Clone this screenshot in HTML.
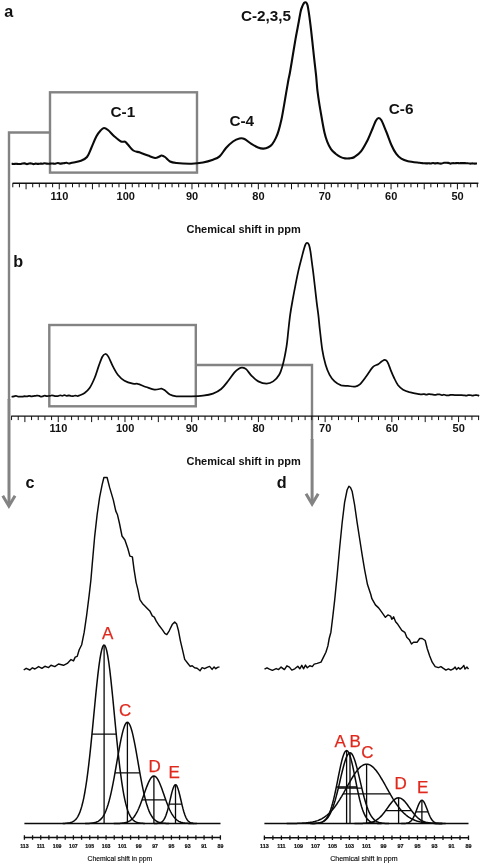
<!DOCTYPE html>
<html><head><meta charset="utf-8"><title>NMR spectra</title>
<style>
html,body{margin:0;padding:0;background:#fff}
svg{display:block}
text{font-family:"Liberation Sans",Arial,Helvetica,sans-serif;fill:#111}
.tk{font-size:11px;font-weight:700}
.pl{font-size:16.2px;font-weight:700}
.cl{font-size:15.3px;font-weight:700}
.ax{font-size:11px;font-weight:700}
.rl{font-size:17px;fill:#e0281c;stroke:#e0281c;stroke-width:0.25px}
.sk{font-weight:700;stroke:#111;stroke-width:0.2px}
.sa{fill:#000;stroke:#000;stroke-width:0.12px}
</style></head><body>
<svg width="482" height="865" viewBox="0 0 482 865">
<rect width="482" height="865" fill="#fff"/>
<g fill="none" stroke="#838383" stroke-width="2.4">
<rect x="50" y="92.3" width="147" height="80.3"/>
<rect x="49.3" y="325" width="146.5" height="81.3"/>
<path d="M49 132.5H9V400"/>
<path d="M9 399V504" stroke-width="3"/>
<path d="M2.75 495.8L8.9 506L15.05 495.8" stroke-width="3" stroke-linejoin="miter"/>
<path d="M196 365H312V440"/>
<path d="M312.1 439V502" stroke-width="3"/>
<path d="M306 493.8L312.1 504L318.2 493.8" stroke-width="3" stroke-linejoin="miter"/>
</g>
<path d="M12.6 183.3H478.4" stroke="#111" stroke-width="1.45" fill="none"/>
<path d="M477.32 183.3v4.0M470.68 183.3v4.0M464.05 183.3v4.0M457.41 183.3v6.0M450.77 183.3v4.0M444.14 183.3v4.0M437.50 183.3v4.0M430.87 183.3v4.0M424.23 183.3v6.0M417.59 183.3v4.0M410.96 183.3v4.0M404.32 183.3v4.0M397.69 183.3v4.0M391.05 183.3v6.0M384.41 183.3v4.0M377.78 183.3v4.0M371.14 183.3v4.0M364.51 183.3v4.0M357.87 183.3v6.0M351.23 183.3v4.0M344.60 183.3v4.0M337.96 183.3v4.0M331.33 183.3v4.0M324.69 183.3v6.0M318.05 183.3v4.0M311.42 183.3v4.0M304.78 183.3v4.0M298.15 183.3v4.0M291.51 183.3v6.0M284.87 183.3v4.0M278.24 183.3v4.0M271.60 183.3v4.0M264.97 183.3v4.0M258.33 183.3v6.0M251.69 183.3v4.0M245.06 183.3v4.0M238.42 183.3v4.0M231.79 183.3v4.0M225.15 183.3v6.0M218.51 183.3v4.0M211.88 183.3v4.0M205.24 183.3v4.0M198.61 183.3v4.0M191.97 183.3v6.0M185.33 183.3v4.0M178.70 183.3v4.0M172.06 183.3v4.0M165.43 183.3v4.0M158.79 183.3v6.0M152.15 183.3v4.0M145.52 183.3v4.0M138.88 183.3v4.0M132.25 183.3v4.0M125.61 183.3v6.0M118.97 183.3v4.0M112.34 183.3v4.0M105.70 183.3v4.0M99.07 183.3v4.0M92.43 183.3v6.0M85.79 183.3v4.0M79.16 183.3v4.0M72.52 183.3v4.0M65.89 183.3v4.0M59.25 183.3v6.0M52.61 183.3v4.0M45.98 183.3v4.0M39.34 183.3v4.0M32.71 183.3v4.0M26.07 183.3v6.0M19.43 183.3v4.0M12.80 183.3v4.0" stroke="#111" stroke-width="1" fill="none"/>
<text x="457.5" y="200.3" text-anchor="middle" class="tk">50</text>
<text x="391.2" y="200.3" text-anchor="middle" class="tk">60</text>
<text x="324.8" y="200.3" text-anchor="middle" class="tk">70</text>
<text x="258.4" y="200.3" text-anchor="middle" class="tk">80</text>
<text x="192.1" y="200.3" text-anchor="middle" class="tk">90</text>
<text x="125.7" y="200.3" text-anchor="middle" class="tk">100</text>
<text x="59.4" y="200.3" text-anchor="middle" class="tk">110</text>
<path d="M11.2 416.1H479.2" stroke="#111" stroke-width="1.45" fill="none"/>
<path d="M478.59 416.1v4.0M471.91 416.1v4.0M465.24 416.1v4.0M458.57 416.1v6.0M451.90 416.1v4.0M445.23 416.1v4.0M438.55 416.1v4.0M431.88 416.1v4.0M425.21 416.1v6.0M418.54 416.1v4.0M411.87 416.1v4.0M405.19 416.1v4.0M398.52 416.1v4.0M391.85 416.1v6.0M385.18 416.1v4.0M378.51 416.1v4.0M371.83 416.1v4.0M365.16 416.1v4.0M358.49 416.1v6.0M351.82 416.1v4.0M345.15 416.1v4.0M338.47 416.1v4.0M331.80 416.1v4.0M325.13 416.1v6.0M318.46 416.1v4.0M311.79 416.1v4.0M305.11 416.1v4.0M298.44 416.1v4.0M291.77 416.1v6.0M285.10 416.1v4.0M278.43 416.1v4.0M271.75 416.1v4.0M265.08 416.1v4.0M258.41 416.1v6.0M251.74 416.1v4.0M245.07 416.1v4.0M238.39 416.1v4.0M231.72 416.1v4.0M225.05 416.1v6.0M218.38 416.1v4.0M211.71 416.1v4.0M205.03 416.1v4.0M198.36 416.1v4.0M191.69 416.1v6.0M185.02 416.1v4.0M178.35 416.1v4.0M171.67 416.1v4.0M165.00 416.1v4.0M158.33 416.1v6.0M151.66 416.1v4.0M144.99 416.1v4.0M138.31 416.1v4.0M131.64 416.1v4.0M124.97 416.1v6.0M118.30 416.1v4.0M111.63 416.1v4.0M104.95 416.1v4.0M98.28 416.1v4.0M91.61 416.1v6.0M84.94 416.1v4.0M78.27 416.1v4.0M71.59 416.1v4.0M64.92 416.1v4.0M58.25 416.1v6.0M51.58 416.1v4.0M44.91 416.1v4.0M38.23 416.1v4.0M31.56 416.1v4.0M24.89 416.1v6.0M18.22 416.1v4.0M11.55 416.1v4.0" stroke="#111" stroke-width="1" fill="none"/>
<text x="458.7" y="432.3" text-anchor="middle" class="tk">50</text>
<text x="391.9" y="432.3" text-anchor="middle" class="tk">60</text>
<text x="325.2" y="432.3" text-anchor="middle" class="tk">70</text>
<text x="258.5" y="432.3" text-anchor="middle" class="tk">80</text>
<text x="191.8" y="432.3" text-anchor="middle" class="tk">90</text>
<text x="125.1" y="432.3" text-anchor="middle" class="tk">100</text>
<text x="58.4" y="432.3" text-anchor="middle" class="tk">110</text>
<path d="M11.6 163.8C12.0 163.8 13.1 164.0 13.8 164.0C14.5 164.0 15.3 163.8 16.0 163.8C16.7 163.8 17.5 164.0 18.2 164.0C18.9 164.0 19.7 164.1 20.4 164.0C21.1 163.9 21.9 163.6 22.6 163.5C23.3 163.4 24.1 163.3 24.8 163.4C25.5 163.5 26.3 164.1 27.0 164.1C27.7 164.1 28.5 163.6 29.2 163.5C29.9 163.4 30.7 163.4 31.4 163.5C32.1 163.6 32.9 164.1 33.6 164.1C34.3 164.2 35.1 163.7 35.8 163.6C36.5 163.6 37.3 164.0 38.0 163.9C38.7 163.9 39.5 163.6 40.2 163.6C40.9 163.5 41.7 163.8 42.4 163.7C43.1 163.6 43.9 163.2 44.6 163.2C45.3 163.2 46.1 163.5 46.8 163.6C47.5 163.7 48.3 163.8 49.0 163.8C49.7 163.8 50.5 163.5 51.2 163.5C51.9 163.4 52.7 163.6 53.4 163.6C54.1 163.7 54.9 163.7 55.6 163.6C56.3 163.4 57.1 163.0 57.8 163.0C58.5 163.0 59.3 163.5 60.0 163.6C60.7 163.6 61.5 163.5 62.2 163.4C62.9 163.3 63.7 163.2 64.4 163.1C65.1 163.0 65.9 162.7 66.6 162.8C67.3 162.9 68.1 163.5 68.8 163.5C69.5 163.6 69.0 163.5 71.0 163.0C73.0 162.5 78.3 161.7 81.0 160.7C83.7 159.7 85.3 159.1 87.0 157.0C88.7 154.9 89.8 151.4 91.3 148.0C92.8 144.6 94.8 139.4 96.3 136.5C97.8 133.6 99.3 131.9 100.6 130.5C101.9 129.1 102.8 128.1 104.0 128.0C105.2 127.9 106.2 128.6 108.0 130.0C109.8 131.4 112.3 134.6 114.5 136.5C116.7 138.4 119.2 140.6 121.0 141.5C122.8 142.4 123.8 141.1 125.0 141.7C126.2 142.3 126.9 143.5 128.3 145.0C129.7 146.5 131.4 149.2 133.3 150.5C135.2 151.8 137.6 151.7 140.0 152.5C142.4 153.3 145.5 154.7 148.0 155.6C150.5 156.5 153.1 157.8 155.0 158.0C156.9 158.2 158.4 156.9 159.5 156.5C160.6 156.1 160.6 155.4 161.5 155.5C162.4 155.6 163.6 156.0 165.0 157.0C166.4 158.0 168.1 160.5 170.0 161.5C171.9 162.5 172.9 162.6 176.5 163.0C180.1 163.4 187.1 163.8 191.5 163.7C195.9 163.6 199.4 163.2 203.0 162.5C206.6 161.8 210.2 160.7 213.0 159.7C215.8 158.7 217.4 158.3 219.6 156.4C221.8 154.5 223.8 150.5 226.0 148.0C228.2 145.5 230.8 143.1 233.0 141.5C235.2 139.9 237.6 138.9 239.5 138.5C241.4 138.1 242.6 138.1 244.5 139.0C246.4 139.9 248.8 142.3 251.0 143.7C253.2 145.1 255.9 146.7 258.0 147.5C260.1 148.3 261.8 148.7 263.5 148.6C265.2 148.5 267.0 147.9 268.4 147.2C269.8 146.5 270.9 145.9 272.1 144.4C273.4 142.9 274.8 140.2 275.9 137.9C277.0 135.6 277.8 133.5 278.7 130.4C279.6 127.3 280.6 123.2 281.5 119.2C282.4 115.2 283.1 110.4 283.9 106.1C284.7 101.8 285.4 97.4 286.1 93.1C286.9 88.8 287.8 83.4 288.4 80.0C289.0 76.6 289.2 76.8 289.9 72.8C290.6 68.8 291.8 61.6 292.7 56.0C293.6 50.4 294.6 44.5 295.5 39.2C296.4 33.9 297.4 29.0 298.3 24.3C299.2 19.6 300.0 14.3 300.7 11.2C301.4 8.1 302.1 7.0 302.6 5.6C303.2 4.2 303.5 3.6 304.0 3.0C304.5 2.4 305.0 2.2 305.4 2.2C305.8 2.2 306.2 2.4 306.6 3.0C307.0 3.6 307.2 3.9 307.6 5.6C308.0 7.3 308.4 10.0 308.9 13.1C309.4 16.2 309.8 19.6 310.4 24.3C311.0 29.0 311.7 35.5 312.3 41.1C312.9 46.7 313.5 52.3 314.1 57.9C314.7 63.5 315.4 69.2 316.0 74.7C316.6 80.2 316.9 86.3 317.5 91.2C318.1 96.1 318.7 100.0 319.4 104.3C320.1 108.6 320.8 112.6 321.6 117.3C322.4 122.0 323.5 128.2 324.4 132.3C325.3 136.4 326.1 138.8 327.2 141.6C328.3 144.4 329.6 147.1 331.0 149.1C332.4 151.1 334.1 152.4 335.6 153.7C337.2 155.0 338.7 156.1 340.3 156.9C341.9 157.7 343.4 158.2 345.0 158.4C346.6 158.7 348.0 158.6 349.6 158.4C351.2 158.2 352.6 158.2 354.5 157.0C356.4 155.8 358.8 154.3 361.0 151.4C363.2 148.5 365.8 143.6 367.8 139.7C369.8 135.8 371.4 131.2 372.8 128.0C374.2 124.8 375.0 122.2 376.0 120.5C377.0 118.8 377.9 118.0 378.8 118.0C379.7 118.0 380.1 118.0 381.4 120.3C382.7 122.6 384.7 127.9 386.4 132.0C388.1 136.1 389.8 141.3 391.4 145.0C393.0 148.7 394.6 151.6 396.3 153.9C398.0 156.2 399.4 157.5 401.3 158.7C403.2 159.9 404.9 160.5 408.0 161.2C411.1 161.9 417.3 162.5 419.6 162.8C421.9 163.1 421.2 163.0 422.0 163.1C422.8 163.2 423.5 163.2 424.2 163.3C424.9 163.4 425.7 163.4 426.4 163.4C427.1 163.4 427.9 163.3 428.6 163.3C429.3 163.3 430.1 163.5 430.8 163.5C431.5 163.4 432.3 163.0 433.0 163.0C433.7 163.0 434.5 163.4 435.2 163.4C435.9 163.4 436.7 163.1 437.4 163.1C438.1 163.1 438.9 163.5 439.6 163.5C440.3 163.6 441.1 163.6 441.8 163.5C442.5 163.4 443.3 162.9 444.0 162.8C444.7 162.7 445.5 162.8 446.2 162.8C446.9 162.8 447.7 162.8 448.4 162.9C449.1 163.0 449.9 163.5 450.6 163.6C451.3 163.6 452.1 163.1 452.8 163.1C453.5 163.0 454.3 163.3 455.0 163.3C455.7 163.3 456.5 163.0 457.2 163.0C457.9 163.0 458.7 163.2 459.4 163.2C460.1 163.2 460.9 163.1 461.6 163.1C462.3 163.0 463.1 163.0 463.8 163.0C464.5 163.1 465.3 163.2 466.0 163.3C466.7 163.3 467.5 163.2 468.2 163.3C468.9 163.3 469.7 163.5 470.4 163.6C471.1 163.6 471.9 163.3 472.6 163.4C473.3 163.4 474.1 163.6 474.8 163.6C475.5 163.6 476.6 163.5 477.0 163.5" fill="none" stroke="#0a0a0a" stroke-width="2.1" stroke-linejoin="round"/>
<path d="M11.6 396.8C12.0 396.7 13.1 396.6 13.8 396.4C14.5 396.3 15.3 395.9 16.0 395.9C16.7 395.9 17.5 396.5 18.2 396.6C18.9 396.7 19.7 396.7 20.4 396.7C21.1 396.7 21.9 396.6 22.6 396.6C23.3 396.5 24.1 396.3 24.8 396.2C25.5 396.2 26.3 396.4 27.0 396.3C27.7 396.3 28.5 395.8 29.2 395.8C29.9 395.8 30.7 396.3 31.4 396.4C32.1 396.4 32.9 396.2 33.6 396.1C34.3 396.0 35.1 395.9 35.8 395.8C36.5 395.7 37.3 395.5 38.0 395.5C38.7 395.6 39.5 396.2 40.2 396.3C40.9 396.5 41.7 396.6 42.4 396.4C43.1 396.3 43.9 395.5 44.6 395.5C45.3 395.5 46.1 396.1 46.8 396.2C47.5 396.2 48.3 395.9 49.0 395.8C49.7 395.6 50.5 395.5 51.2 395.5C51.9 395.4 52.7 395.5 53.4 395.6C54.1 395.7 54.9 396.0 55.6 396.0C56.3 396.1 57.1 396.2 57.8 396.1C58.5 396.0 59.3 395.3 60.0 395.3C60.7 395.2 61.5 395.8 62.2 395.8C62.9 395.8 63.7 395.2 64.4 395.2C65.1 395.2 65.9 395.8 66.6 395.9C67.3 395.9 68.1 395.4 68.8 395.4C69.5 395.5 70.3 395.9 71.0 396.0C71.7 396.1 72.5 396.1 73.2 396.0C73.9 396.0 74.7 395.5 75.4 395.5C76.1 395.5 76.9 396.0 77.6 396.0C78.3 396.0 78.5 395.8 79.7 395.3C80.9 394.8 82.9 394.2 84.6 393.0C86.2 391.8 87.9 390.5 89.6 388.0C91.3 385.5 93.1 381.6 94.6 378.0C96.1 374.4 97.3 369.9 98.6 366.4C99.9 362.9 101.1 359.1 102.2 357.0C103.3 354.9 104.2 354.1 105.2 354.0C106.2 353.9 106.9 354.3 108.2 356.4C109.5 358.5 111.3 363.3 112.9 366.4C114.5 369.4 115.9 372.3 117.8 374.7C119.7 377.1 122.0 379.2 124.5 380.7C127.0 382.2 130.6 383.2 132.8 383.7C135.0 384.2 135.6 383.3 137.8 383.9C140.0 384.4 143.2 386.1 146.0 387.0C148.8 387.9 152.2 389.3 154.4 389.6C156.6 389.9 158.1 389.2 159.3 389.0C160.5 388.8 160.6 388.4 161.5 388.6C162.4 388.8 163.4 389.3 164.8 390.3C166.2 391.3 167.9 393.6 169.8 394.6C171.7 395.6 172.8 396.0 176.4 396.3C180.0 396.6 187.0 396.4 191.4 396.3C195.8 396.2 199.4 396.1 203.0 395.6C206.6 395.2 210.0 394.7 213.0 393.6C216.0 392.5 218.7 391.1 221.2 389.0C223.7 386.9 225.7 384.1 227.9 381.3C230.1 378.5 232.7 374.5 234.5 372.4C236.3 370.3 237.5 369.5 238.8 368.7C240.1 367.9 241.0 367.6 242.2 367.7C243.4 367.8 244.5 367.8 246.1 369.2C247.7 370.6 249.6 373.8 251.6 375.8C253.6 377.8 255.8 380.1 258.3 381.4C260.8 382.7 264.1 383.7 266.6 383.7C269.1 383.7 271.1 382.9 273.2 381.4C275.3 379.9 277.5 377.8 279.2 374.8C280.9 371.8 282.0 367.9 283.2 363.2C284.4 358.5 285.6 352.1 286.5 346.6C287.4 341.1 287.8 335.3 288.4 330.0C289.0 324.7 289.5 319.8 290.2 314.7C290.9 309.6 291.8 304.7 292.7 299.7C293.6 294.7 294.5 289.8 295.5 284.8C296.5 279.8 297.6 274.2 298.6 269.9C299.6 265.5 300.5 262.1 301.4 258.7C302.3 255.3 303.2 251.6 303.9 249.3C304.6 247.0 304.9 245.8 305.4 244.7C305.9 243.6 306.4 242.8 307.0 242.8C307.6 242.8 308.3 243.3 308.9 244.7C309.5 246.1 309.9 248.2 310.4 251.2C310.9 254.1 311.4 258.3 311.9 262.4C312.4 266.4 313.1 271.1 313.6 275.5C314.1 279.9 314.6 284.1 315.1 288.5C315.6 292.9 316.1 297.2 316.6 301.6C317.1 306.0 317.8 310.0 318.3 314.7C318.9 319.4 319.2 324.1 319.9 330.0C320.6 335.9 321.4 344.1 322.3 349.9C323.2 355.7 324.4 360.6 325.6 364.8C326.8 369.0 328.1 372.0 329.6 374.8C331.1 377.6 332.7 379.6 334.6 381.4C336.5 383.2 339.0 384.6 341.2 385.4C343.4 386.1 345.7 385.7 347.9 385.9C350.1 386.1 352.6 386.8 354.5 386.6C356.4 386.4 357.5 386.5 359.5 384.7C361.5 382.9 364.3 378.9 366.5 376.0C368.7 373.1 370.9 369.1 372.8 367.1C374.8 365.1 376.7 365.2 378.2 364.2C379.7 363.2 380.8 362.0 381.9 361.3C383.0 360.6 383.9 359.8 384.9 359.9C385.8 360.0 386.7 360.5 387.6 362.2C388.6 363.9 389.5 367.1 390.6 369.8C391.7 372.5 393.1 375.9 394.4 378.5C395.6 381.1 396.7 383.4 398.1 385.3C399.6 387.2 401.2 388.6 403.1 389.7C405.0 390.8 406.6 391.4 409.3 392.2C412.0 392.9 417.2 393.8 419.3 394.2C421.4 394.6 421.2 394.3 422.0 394.3C422.8 394.3 423.5 394.1 424.2 394.1C424.9 394.2 425.7 394.7 426.4 394.7C427.1 394.7 427.9 394.2 428.6 394.1C429.3 394.1 430.1 394.3 430.8 394.3C431.5 394.4 432.3 394.5 433.0 394.6C433.7 394.7 434.5 394.8 435.2 394.8C435.9 394.8 436.7 394.5 437.4 394.4C438.1 394.3 438.9 394.2 439.6 394.3C440.3 394.4 441.1 395.1 441.8 395.2C442.5 395.2 443.3 394.6 444.0 394.7C444.7 394.7 445.5 395.2 446.2 395.3C446.9 395.4 447.7 395.4 448.4 395.3C449.1 395.2 449.9 394.9 450.6 394.8C451.3 394.8 452.1 394.9 452.8 394.9C453.5 395.0 454.3 395.0 455.0 395.0C455.7 395.1 456.5 395.2 457.2 395.2C457.9 395.2 458.7 395.2 459.4 395.2C460.1 395.2 460.9 395.2 461.6 395.2C462.3 395.2 463.1 395.2 463.8 395.3C464.5 395.3 465.3 395.6 466.0 395.6C466.7 395.6 467.5 395.3 468.2 395.2C468.9 395.2 469.7 395.1 470.4 395.2C471.1 395.2 471.9 395.5 472.6 395.5C473.3 395.5 474.1 395.1 474.8 395.1C475.5 395.0 476.3 395.0 477.0 395.2C477.7 395.3 478.8 395.7 479.2 395.9" fill="none" stroke="#0a0a0a" stroke-width="1.75" stroke-linejoin="round"/>
<path d="M23.7 670.0L26.2 668.3L29.9 670.0L32.4 667.8L34.9 669.0L38.6 666.6L41.9 668.3L44.9 666.3L48.6 667.6L51.0 665.3L54.8 666.6L58.5 664.0L63.5 665.3L67.3 663.4L71.0 659.6L73.5 660.9L75.2 657.1L77.2 656.4L79.2 649.7L81.7 644.7L84.2 632.2L86.7 614.8L89.2 594.9L90.9 580.0L92.2 564.6L94.6 537.2L97.1 514.8L99.6 497.4L102.1 484.9L103.9 477.5L107.1 477.5L109.6 487.4L113.3 499.9L115.8 511.1L117.5 514.8L119.5 523.5L122.0 536.0L124.9 540.0L127.9 548.7L129.9 556.1L132.4 556.9L134.1 569.8L136.1 582.3L137.9 589.7L139.9 599.7L142.4 603.4L144.9 605.9L147.3 608.4L149.8 610.9L152.3 615.9L154.3 617.1L156.1 620.9L159.3 625.8L162.3 629.6L164.8 633.3L166.8 634.6L169.2 630.8L172.2 624.6L174.7 622.1L176.7 624.1L178.5 630.8L180.4 640.8L182.7 650.7L184.7 659.4L187.7 663.2L190.2 666.4L192.2 665.7L194.6 667.7L197.1 668.2L200.1 670.7L202.1 667.7L204.6 668.7L207.1 667.4L209.6 666.4L212.1 669.4L214.1 666.9L215.8 668.7L217.5 667.4L219.5 666.9" fill="none" stroke="#0a0a0a" stroke-width="1.45" stroke-linejoin="round"/>
<path d="M264.5 669.1L267.0 667.8L269.4 669.1L272.4 670.3L276.2 668.6L278.6 669.6L281.1 667.1L284.4 669.6L286.9 665.8L289.4 667.1L291.8 670.1L294.8 668.8L297.8 666.3L299.8 668.8L301.8 665.3L303.5 668.8L305.5 665.1L307.3 667.8L309.8 665.8L312.3 666.6L314.2 664.1L317.2 663.4L321.0 662.1L323.5 657.1L325.9 652.2L327.9 645.9L329.2 638.5L330.9 632.2L332.7 617.3L334.7 599.9L337.2 574.6L339.7 547.2L342.2 522.3L344.6 502.4L347.1 490.0L348.9 486.2L350.5 487.5L352.1 491.2L354.6 504.9L357.1 522.3L359.6 538.5L362.1 554.7L364.6 569.6L367.5 584.6L370.8 594.5L371.9 598.7L375.4 604.9L378.6 607.9L381.9 612.4L385.4 617.3L387.9 614.9L390.6 616.1L391.8 619.3L393.6 616.8L395.6 621.8L397.8 624.3L399.8 627.3L401.8 630.3L404.8 632.3L406.8 637.3L409.3 639.7L411.5 644.0L413.5 642.2L417.2 642.2L419.7 638.5L422.2 638.5L425.2 640.5L427.2 648.5L429.7 655.9L432.2 662.2L435.2 666.6L438.4 667.6L440.9 666.6L443.4 668.4L445.9 670.1L448.4 668.9L450.8 670.1L453.3 668.9L455.1 667.1L456.6 669.6L458.3 667.6L460.1 669.1L462.0 667.6L463.8 665.4L465.0 669.1L467.0 667.1L468.5 669.1" fill="none" stroke="#0a0a0a" stroke-width="1.45" stroke-linejoin="round"/>
<text x="4.2" y="17" class="pl">a</text>
<text x="13.2" y="267.3" class="pl">b</text>
<text x="25.5" y="488.1" class="pl">c</text>
<text x="276.8" y="488" class="pl">d</text>
<text x="122.9" y="117.2" text-anchor="middle" class="cl">C-1</text>
<text x="241.8" y="125.8" text-anchor="middle" class="cl">C-4</text>
<text x="266" y="20.8" text-anchor="middle" class="cl">C-2,3,5</text>
<text x="401.1" y="114" text-anchor="middle" class="cl">C-6</text>
<text x="243.6" y="233.3" text-anchor="middle" class="ax">Chemical shift in ppm</text>
<text x="243.6" y="465.2" text-anchor="middle" class="ax">Chemical shift in ppm</text>
<g fill="none" stroke="#0a0a0a" stroke-width="1.5">
<path d="M24.4 823.5H220.5"/>
<path d="M62.8 823.4L63.8 823.4L64.8 823.4L65.8 823.3L66.8 823.2L67.8 823.1L68.8 823.0L69.8 822.8L70.8 822.5L71.8 822.2L72.8 821.7L73.8 821.1L74.8 820.3L75.8 819.4L76.8 818.1L77.8 816.6L78.8 814.7L79.8 812.4L80.8 809.6L81.8 806.3L82.8 802.3L83.8 797.8L84.8 792.5L85.8 786.5L86.8 779.8L87.8 772.3L88.8 764.1L89.8 755.3L90.8 745.8L91.8 735.9L92.8 725.6L93.8 715.1L94.8 704.7L95.8 694.4L96.8 684.6L97.8 675.4L98.8 667.1L99.8 659.9L100.8 654.0L101.8 649.4L102.8 646.4L103.8 645.1L104.8 645.4L105.8 647.4L106.8 651.0L107.8 656.1L108.8 662.5L109.8 670.2L110.8 678.8L111.8 688.3L112.8 698.3L113.8 708.6L114.8 719.1L115.8 729.5L116.8 739.7L117.8 749.5L118.8 758.7L119.8 767.3L120.8 775.2L121.8 782.4L122.8 788.9L123.8 794.6L124.8 799.6L125.8 803.9L126.8 807.6L127.8 810.7L128.8 813.3L129.8 815.4L130.8 817.2L131.8 818.6L132.8 819.8L133.8 820.7L134.8 821.4L135.8 821.9L136.8 822.3L137.8 822.6L138.8 822.9L139.8 823.0L140.8 823.2L141.8 823.3L142.8 823.3L143.8 823.4L144.8 823.4"/>
<path d="M85.1 823.5L86.1 823.5L87.1 823.4L88.1 823.4L89.1 823.4L90.1 823.3L91.1 823.2L92.1 823.1L93.1 823.0L94.1 822.8L95.1 822.6L96.1 822.2L97.1 821.8L98.1 821.3L99.1 820.7L100.1 819.9L101.1 818.9L102.1 817.8L103.1 816.3L104.1 814.6L105.1 812.6L106.1 810.3L107.1 807.6L108.1 804.5L109.1 801.0L110.1 797.1L111.1 792.8L112.1 788.1L113.1 783.1L114.1 777.8L115.1 772.2L116.1 766.5L117.1 760.7L118.1 754.9L119.1 749.3L120.1 743.9L121.1 738.9L122.1 734.4L123.1 730.4L124.1 727.2L125.1 724.7L126.1 723.1L127.1 722.3L128.1 722.5L129.1 723.6L130.1 725.5L131.1 728.2L132.1 731.7L133.1 735.9L134.1 740.6L135.1 745.7L136.1 751.2L137.1 756.9L138.1 762.7L139.1 768.5L140.1 774.1L141.1 779.6L142.1 784.8L143.1 789.7L144.1 794.3L145.1 798.4L146.1 802.2L147.1 805.6L148.1 808.5L149.1 811.1L150.1 813.3L151.1 815.2L152.1 816.8L153.1 818.2L154.1 819.3L155.1 820.2L156.1 820.9L157.1 821.5L158.1 822.0L159.1 822.4L160.1 822.6L161.1 822.9L162.1 823.0L163.1 823.2L164.1 823.3L165.1 823.3L166.1 823.4L167.1 823.4L168.1 823.4L169.1 823.5"/>
<path d="M113.8 823.5L114.8 823.5L115.8 823.5L116.8 823.5L117.8 823.4L118.8 823.4L119.8 823.4L120.8 823.3L121.8 823.2L122.8 823.1L123.8 823.0L124.8 822.8L125.8 822.6L126.8 822.3L127.8 821.9L128.8 821.4L129.8 820.9L130.8 820.2L131.8 819.3L132.8 818.3L133.8 817.2L134.8 815.8L135.8 814.2L136.8 812.5L137.8 810.5L138.8 808.3L139.8 805.9L140.8 803.3L141.8 800.6L142.8 797.8L143.8 795.0L144.8 792.1L145.8 789.3L146.8 786.6L147.8 784.1L148.8 781.8L149.8 779.8L150.8 778.2L151.8 777.1L152.8 776.3L153.8 776.0L154.8 776.2L155.8 776.8L156.8 777.9L157.8 779.4L158.8 781.3L159.8 783.5L160.8 786.0L161.8 788.6L162.8 791.4L163.8 794.3L164.8 797.2L165.8 800.0L166.8 802.7L167.8 805.3L168.8 807.7L169.8 810.0L170.8 812.0L171.8 813.8L172.8 815.4L173.8 816.9L174.8 818.1L175.8 819.1L176.8 820.0L177.8 820.7L178.8 821.3L179.8 821.8L180.8 822.2L181.8 822.5L182.8 822.8L183.8 822.9L184.8 823.1L185.8 823.2L186.8 823.3L187.8 823.3L188.8 823.4L189.8 823.4L190.8 823.4L191.8 823.5L192.8 823.5L193.8 823.5"/>
<path d="M153.9 823.5L154.9 823.5L155.9 823.4L156.9 823.4L157.9 823.3L158.9 823.2L159.9 822.9L160.9 822.5L161.9 821.9L162.9 821.0L163.9 819.6L164.9 817.9L165.9 815.5L166.9 812.6L167.9 809.1L168.9 805.1L169.9 800.8L170.9 796.5L171.9 792.4L172.9 788.9L173.9 786.4L174.9 784.9L175.9 784.8L176.9 786.0L177.9 788.4L178.9 791.7L179.9 795.7L180.9 800.0L181.9 804.4L182.9 808.4L183.9 812.0L184.9 815.0L185.9 817.5L186.9 819.4L187.9 820.8L188.9 821.7L189.9 822.4L190.9 822.8L191.9 823.1L192.9 823.3L193.9 823.4L194.9 823.4L195.9 823.5L196.9 823.5"/>
</g>
<g fill="none" stroke="#0a0a0a" stroke-width="1.3">
<path d="M104.1 645V823.5M91.9 734.2H116.2"/>
<path d="M127.4 722.3V823.5M115.0 772.9H139.8"/>
<path d="M153.9 776V823.5M142.1 799.8H165.7"/>
<path d="M175.5 784.7V823.5M169.2 804.1H181.8"/>
</g>
<g fill="none" stroke="#0a0a0a" stroke-width="1.5">
<path d="M264.4 823.5H468.5"/>
<path d="M311.6 823.5L312.6 823.5L313.6 823.4L314.6 823.4L315.6 823.4L316.6 823.3L317.6 823.2L318.6 823.1L319.6 822.9L320.6 822.6L321.6 822.3L322.6 821.8L323.6 821.2L324.6 820.4L325.6 819.4L326.6 818.2L327.6 816.6L328.6 814.8L329.6 812.5L330.6 809.9L331.6 806.8L332.6 803.3L333.6 799.4L334.6 795.1L335.6 790.5L336.6 785.6L337.6 780.6L338.6 775.5L339.6 770.6L340.6 765.9L341.6 761.6L342.6 757.8L343.6 754.7L344.6 752.4L345.6 751.0L346.6 750.5L347.6 751.0L348.6 752.3L349.6 754.6L350.6 757.7L351.6 761.4L352.6 765.7L353.6 770.4L354.6 775.3L355.6 780.4L356.6 785.4L357.6 790.3L358.6 794.9L359.6 799.2L360.6 803.1L361.6 806.7L362.6 809.7L363.6 812.4L364.6 814.7L365.6 816.6L366.6 818.1L367.6 819.4L368.6 820.4L369.6 821.2L370.6 821.8L371.6 822.3L372.6 822.6L373.6 822.9L374.6 823.1L375.6 823.2L376.6 823.3L377.6 823.4L378.6 823.4L379.6 823.4L380.6 823.5L381.6 823.5"/>
<path d="M310.1 823.5L311.1 823.5L312.1 823.4L313.1 823.4L314.1 823.4L315.1 823.3L316.1 823.3L317.1 823.2L318.1 823.1L319.1 822.9L320.1 822.7L321.1 822.4L322.1 822.1L323.1 821.7L324.1 821.1L325.1 820.4L326.1 819.5L327.1 818.5L328.1 817.2L329.1 815.7L330.1 813.9L331.1 811.8L332.1 809.5L333.1 806.8L334.1 803.8L335.1 800.5L336.1 796.9L337.1 793.0L338.1 789.0L339.1 784.8L340.1 780.5L341.1 776.2L342.1 772.0L343.1 768.0L344.1 764.3L345.1 761.0L346.1 758.1L347.1 755.8L348.1 754.1L349.1 753.1L350.1 752.8L351.1 753.2L352.1 754.3L353.1 756.0L354.1 758.4L355.1 761.3L356.1 764.7L357.1 768.4L358.1 772.4L359.1 776.6L360.1 780.9L361.1 785.2L362.1 789.4L363.1 793.4L364.1 797.3L365.1 800.8L366.1 804.1L367.1 807.1L368.1 809.7L369.1 812.1L370.1 814.1L371.1 815.9L372.1 817.3L373.1 818.6L374.1 819.6L375.1 820.5L376.1 821.2L377.1 821.7L378.1 822.1L379.1 822.5L380.1 822.7L381.1 822.9L382.1 823.1L383.1 823.2L384.1 823.3L385.1 823.4L386.1 823.4L387.1 823.4L388.1 823.5L389.1 823.5"/>
<path d="M286.7 823.5L287.7 823.5L288.7 823.5L289.7 823.5L290.7 823.5L291.7 823.4L292.7 823.4L293.7 823.4L294.7 823.4L295.7 823.4L296.7 823.4L297.7 823.3L298.7 823.3L299.7 823.3L300.7 823.2L301.7 823.2L302.7 823.1L303.7 823.1L304.7 823.0L305.7 822.9L306.7 822.8L307.7 822.7L308.7 822.6L309.7 822.5L310.7 822.3L311.7 822.2L312.7 822.0L313.7 821.7L314.7 821.5L315.7 821.2L316.7 820.9L317.7 820.6L318.7 820.2L319.7 819.7L320.7 819.3L321.7 818.8L322.7 818.2L323.7 817.6L324.7 817.0L325.7 816.2L326.7 815.5L327.7 814.6L328.7 813.7L329.7 812.8L330.7 811.7L331.7 810.6L332.7 809.5L333.7 808.3L334.7 807.0L335.7 805.6L336.7 804.2L337.7 802.7L338.7 801.2L339.7 799.6L340.7 797.9L341.7 796.3L342.7 794.5L343.7 792.8L344.7 791.0L345.7 789.2L346.7 787.4L347.7 785.6L348.7 783.8L349.7 782.1L350.7 780.3L351.7 778.6L352.7 777.0L353.7 775.4L354.7 773.9L355.7 772.4L356.7 771.1L357.7 769.8L358.7 768.7L359.7 767.6L360.7 766.7L361.7 766.0L362.7 765.3L363.7 764.8L364.7 764.5L365.7 764.3L366.7 764.2L367.7 764.3L368.7 764.5L369.7 764.9L370.7 765.4L371.7 766.1L372.7 766.9L373.7 767.8L374.7 768.9L375.7 770.1L376.7 771.3L377.7 772.7L378.7 774.2L379.7 775.7L380.7 777.3L381.7 779.0L382.7 780.7L383.7 782.4L384.7 784.2L385.7 786.0L386.7 787.8L387.7 789.6L388.7 791.4L389.7 793.1L390.7 794.9L391.7 796.6L392.7 798.3L393.7 799.9L394.7 801.5L395.7 803.0L396.7 804.5L397.7 805.9L398.7 807.2L399.7 808.5L400.7 809.7L401.7 810.9L402.7 811.9L403.7 813.0L404.7 813.9L405.7 814.8L406.7 815.6L407.7 816.4L408.7 817.1L409.7 817.7L410.7 818.3L411.7 818.9L412.7 819.4L413.7 819.8L414.7 820.2L415.7 820.6L416.7 821.0L417.7 821.3L418.7 821.5L419.7 821.8L420.7 822.0L421.7 822.2L422.7 822.4L423.7 822.5L424.7 822.6L425.7 822.8L426.7 822.9L427.7 823.0L428.7 823.0L429.7 823.1L430.7 823.2L431.7 823.2L432.7 823.3L433.7 823.3L434.7 823.3L435.7 823.4L436.7 823.4L437.7 823.4L438.7 823.4L439.7 823.4L440.7 823.4L441.7 823.5L442.7 823.5L443.7 823.5L444.7 823.5L445.7 823.5"/>
<path d="M354.4 823.5L355.4 823.5L356.4 823.5L357.4 823.5L358.4 823.5L359.4 823.5L360.4 823.4L361.4 823.4L362.4 823.4L363.4 823.3L364.4 823.3L365.4 823.2L366.4 823.1L367.4 823.0L368.4 822.9L369.4 822.7L370.4 822.5L371.4 822.3L372.4 822.0L373.4 821.6L374.4 821.2L375.4 820.7L376.4 820.1L377.4 819.4L378.4 818.7L379.4 817.8L380.4 816.9L381.4 815.9L382.4 814.7L383.4 813.5L384.4 812.3L385.4 810.9L386.4 809.5L387.4 808.1L388.4 806.7L389.4 805.3L390.4 804.0L391.4 802.7L392.4 801.5L393.4 800.5L394.4 799.6L395.4 798.9L396.4 798.3L397.4 798.0L398.4 797.8L399.4 797.9L400.4 798.1L401.4 798.6L402.4 799.3L403.4 800.1L404.4 801.1L405.4 802.2L406.4 803.5L407.4 804.8L408.4 806.2L409.4 807.6L410.4 809.0L411.4 810.4L412.4 811.7L413.4 813.0L414.4 814.3L415.4 815.4L416.4 816.5L417.4 817.5L418.4 818.4L419.4 819.1L420.4 819.8L421.4 820.5L422.4 821.0L423.4 821.4L424.4 821.8L425.4 822.1L426.4 822.4L427.4 822.6L428.4 822.8L429.4 823.0L430.4 823.1L431.4 823.2L432.4 823.3L433.4 823.3L434.4 823.4L435.4 823.4L436.4 823.4L437.4 823.4L438.4 823.5L439.4 823.5L440.4 823.5L441.4 823.5L442.4 823.5"/>
<path d="M401.2 823.5L402.2 823.5L403.2 823.5L404.2 823.4L405.2 823.4L406.2 823.3L407.2 823.1L408.2 822.8L409.2 822.4L410.2 821.7L411.2 820.8L412.2 819.5L413.2 817.9L414.2 815.9L415.2 813.5L416.2 810.9L417.2 808.2L418.2 805.6L419.2 803.3L420.2 801.6L421.2 800.5L422.2 800.3L423.2 801.0L424.2 802.4L425.2 804.5L426.2 807.0L427.2 809.6L428.2 812.3L429.2 814.8L430.2 817.0L431.2 818.8L432.2 820.2L433.2 821.3L434.2 822.1L435.2 822.6L436.2 823.0L437.2 823.2L438.2 823.3L439.2 823.4L440.2 823.5L441.2 823.5L442.2 823.5"/>
</g>
<g fill="none" stroke="#0a0a0a" stroke-width="1.3">
<path d="M346.6 750.5V823.5M336.3 787.0H356.9"/>
<path d="M350.0 752.8V823.5M338.2 788.1H361.8"/>
<path d="M366.6 764.2V823.5M343.1 793.9H390.1"/>
<path d="M398.6 797.8V823.5M385.6 810.6H411.6"/>
<path d="M421.9 800.3V823.5M415.8 811.9H428.0"/>
</g>
<text x="101.9" y="639.2" class="rl">A</text>
<text x="119.0" y="716.4" class="rl">C</text>
<text x="148.6" y="771.5" class="rl">D</text>
<text x="168.6" y="777.6" class="rl">E</text>
<text x="334.4" y="747.4" class="rl">A</text>
<text x="349.6" y="747.4" class="rl">B</text>
<text x="361.2" y="758.1" class="rl">C</text>
<text x="394.6" y="788.5" class="rl">D</text>
<text x="416.9" y="793.3" class="rl">E</text>
<path d="M23.9 837.5H220.9" stroke="#111" stroke-width="1.5" fill="none"/>
<path d="M24.40 835.3v4.4M32.57 835.3v4.4M40.73 835.3v4.4M48.90 835.3v4.4M57.07 835.3v4.4M65.23 835.3v4.4M73.40 835.3v4.4M81.57 835.3v4.4M89.73 835.3v4.4M97.90 835.3v4.4M106.07 835.3v4.4M114.23 835.3v4.4M122.40 835.3v4.4M130.57 835.3v4.4M138.73 835.3v4.4M146.90 835.3v4.4M155.07 835.3v4.4M163.23 835.3v4.4M171.40 835.3v4.4M179.57 835.3v4.4M187.73 835.3v4.4M195.90 835.3v4.4M204.07 835.3v4.4M212.23 835.3v4.4M220.40 835.3v4.4" stroke="#111" stroke-width="1.3" fill="none"/>
<text x="24.4" y="847.9" text-anchor="middle" class="sk" font-size="5.2">113</text>
<text x="40.7" y="847.9" text-anchor="middle" class="sk" font-size="5.2">111</text>
<text x="57.1" y="847.9" text-anchor="middle" class="sk" font-size="5.2">109</text>
<text x="73.4" y="847.9" text-anchor="middle" class="sk" font-size="5.2">107</text>
<text x="89.7" y="847.9" text-anchor="middle" class="sk" font-size="5.2">105</text>
<text x="106.1" y="847.9" text-anchor="middle" class="sk" font-size="5.2">103</text>
<text x="122.4" y="847.9" text-anchor="middle" class="sk" font-size="5.2">101</text>
<text x="138.7" y="847.9" text-anchor="middle" class="sk" font-size="5.2">99</text>
<text x="155.1" y="847.9" text-anchor="middle" class="sk" font-size="5.2">97</text>
<text x="171.4" y="847.9" text-anchor="middle" class="sk" font-size="5.2">95</text>
<text x="187.7" y="847.9" text-anchor="middle" class="sk" font-size="5.2">93</text>
<text x="204.1" y="847.9" text-anchor="middle" class="sk" font-size="5.2">91</text>
<text x="220.4" y="847.9" text-anchor="middle" class="sk" font-size="5.2">89</text>
<text x="87.6" y="860.6" class="sa" font-size="6.75">Chemical shift in ppm</text>
<path d="M263.9 837.7H469.0" stroke="#111" stroke-width="1.5" fill="none"/>
<path d="M264.40 835.5v4.4M272.90 835.5v4.4M281.41 835.5v4.4M289.91 835.5v4.4M298.42 835.5v4.4M306.92 835.5v4.4M315.42 835.5v4.4M323.93 835.5v4.4M332.43 835.5v4.4M340.94 835.5v4.4M349.44 835.5v4.4M357.95 835.5v4.4M366.45 835.5v4.4M374.95 835.5v4.4M383.46 835.5v4.4M391.96 835.5v4.4M400.47 835.5v4.4M408.97 835.5v4.4M417.48 835.5v4.4M425.98 835.5v4.4M434.48 835.5v4.4M442.99 835.5v4.4M451.49 835.5v4.4M460.00 835.5v4.4M468.50 835.5v4.4" stroke="#111" stroke-width="1.3" fill="none"/>
<text x="264.4" y="848.1" text-anchor="middle" class="sk" font-size="5.4">113</text>
<text x="281.4" y="848.1" text-anchor="middle" class="sk" font-size="5.4">111</text>
<text x="298.4" y="848.1" text-anchor="middle" class="sk" font-size="5.4">109</text>
<text x="315.4" y="848.1" text-anchor="middle" class="sk" font-size="5.4">107</text>
<text x="332.4" y="848.1" text-anchor="middle" class="sk" font-size="5.4">105</text>
<text x="349.4" y="848.1" text-anchor="middle" class="sk" font-size="5.4">103</text>
<text x="366.4" y="848.1" text-anchor="middle" class="sk" font-size="5.4">101</text>
<text x="383.5" y="848.1" text-anchor="middle" class="sk" font-size="5.4">99</text>
<text x="400.5" y="848.1" text-anchor="middle" class="sk" font-size="5.4">97</text>
<text x="417.5" y="848.1" text-anchor="middle" class="sk" font-size="5.4">95</text>
<text x="434.5" y="848.1" text-anchor="middle" class="sk" font-size="5.4">93</text>
<text x="451.5" y="848.1" text-anchor="middle" class="sk" font-size="5.4">91</text>
<text x="468.5" y="848.1" text-anchor="middle" class="sk" font-size="5.4">89</text>
<text x="330.2" y="861.2" class="sa" font-size="7.05">Chemical shift in ppm</text>
</svg>
</body></html>
